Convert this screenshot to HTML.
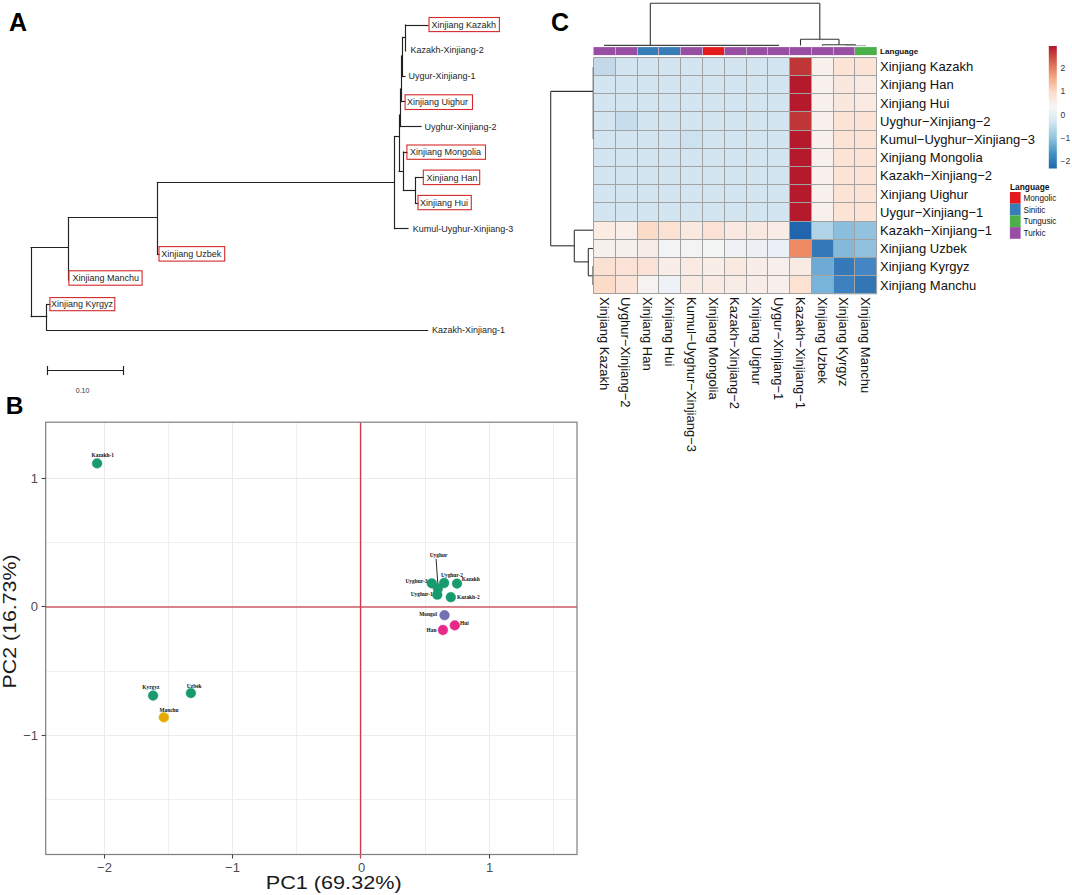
<!DOCTYPE html>
<html><head><meta charset="utf-8"><style>
html,body{margin:0;padding:0;background:#fff;}
body{width:1072px;height:895px;overflow:hidden;}
svg{display:block;}
</style></head><body>
<svg width="1072" height="895" viewBox="0 0 1072 895">
<rect x="0" y="0" width="1072" height="895" fill="#fff"/>
<line x1="405.5" y1="25.5" x2="428" y2="25.5" stroke="#222" stroke-width="1.15" stroke-linecap="square"/>
<line x1="405.5" y1="25" x2="405.5" y2="51" stroke="#222" stroke-width="1.15" stroke-linecap="square"/>
<line x1="402.5" y1="37.5" x2="405.5" y2="37.5" stroke="#222" stroke-width="1.15" stroke-linecap="square"/>
<line x1="402.5" y1="37.5" x2="402.5" y2="76.5" stroke="#222" stroke-width="1.15" stroke-linecap="square"/>
<line x1="402" y1="76.5" x2="405" y2="76.5" stroke="#222" stroke-width="1.15" stroke-linecap="square"/>
<line x1="401.5" y1="56" x2="401.5" y2="101.5" stroke="#222" stroke-width="1.15" stroke-linecap="square"/>
<line x1="400.5" y1="101.5" x2="405" y2="101.5" stroke="#222" stroke-width="1.15" stroke-linecap="square"/>
<line x1="400.5" y1="89" x2="400.5" y2="126.5" stroke="#222" stroke-width="1.15" stroke-linecap="square"/>
<line x1="399.5" y1="126.5" x2="421" y2="126.5" stroke="#222" stroke-width="1.15" stroke-linecap="square"/>
<line x1="399.5" y1="115" x2="399.5" y2="171.2" stroke="#222" stroke-width="1.15" stroke-linecap="square"/>
<line x1="394.5" y1="136.5" x2="399.1" y2="136.5" stroke="#222" stroke-width="1.15" stroke-linecap="square"/>
<line x1="399.1" y1="171.5" x2="403.4" y2="171.5" stroke="#222" stroke-width="1.15" stroke-linecap="square"/>
<line x1="403.5" y1="152" x2="403.5" y2="190" stroke="#222" stroke-width="1.15" stroke-linecap="square"/>
<line x1="403.4" y1="152.5" x2="407" y2="152.5" stroke="#222" stroke-width="1.15" stroke-linecap="square"/>
<line x1="403.4" y1="190.5" x2="415.5" y2="190.5" stroke="#222" stroke-width="1.15" stroke-linecap="square"/>
<line x1="415.5" y1="177.5" x2="415.5" y2="203.3" stroke="#222" stroke-width="1.15" stroke-linecap="square"/>
<line x1="415.5" y1="177.5" x2="423.3" y2="177.5" stroke="#222" stroke-width="1.15" stroke-linecap="square"/>
<line x1="415.5" y1="203.5" x2="418" y2="203.5" stroke="#222" stroke-width="1.15" stroke-linecap="square"/>
<line x1="394.5" y1="136.6" x2="394.5" y2="228.7" stroke="#222" stroke-width="1.15" stroke-linecap="square"/>
<line x1="394.5" y1="228.5" x2="408" y2="228.5" stroke="#222" stroke-width="1.15" stroke-linecap="square"/>
<line x1="157.4" y1="182.5" x2="394.5" y2="182.5" stroke="#222" stroke-width="1.15" stroke-linecap="square"/>
<line x1="157.5" y1="182.5" x2="157.5" y2="254" stroke="#222" stroke-width="1.15" stroke-linecap="square"/>
<line x1="157.4" y1="254.5" x2="159" y2="254.5" stroke="#222" stroke-width="1.15" stroke-linecap="square"/>
<line x1="68.4" y1="217.5" x2="157.4" y2="217.5" stroke="#222" stroke-width="1.15" stroke-linecap="square"/>
<line x1="68.5" y1="217.5" x2="68.5" y2="280" stroke="#222" stroke-width="1.15" stroke-linecap="square"/>
<line x1="31.1" y1="247.5" x2="68.4" y2="247.5" stroke="#222" stroke-width="1.15" stroke-linecap="square"/>
<line x1="31.5" y1="247.7" x2="31.5" y2="316.6" stroke="#222" stroke-width="1.15" stroke-linecap="square"/>
<line x1="31.1" y1="316.5" x2="46.7" y2="316.5" stroke="#222" stroke-width="1.15" stroke-linecap="square"/>
<line x1="46.5" y1="304.5" x2="46.5" y2="330" stroke="#222" stroke-width="1.15" stroke-linecap="square"/>
<line x1="46.7" y1="304.5" x2="49.9" y2="304.5" stroke="#222" stroke-width="1.15" stroke-linecap="square"/>
<line x1="46.7" y1="330.5" x2="427.7" y2="330.5" stroke="#222" stroke-width="1.15" stroke-linecap="square"/>
<line x1="47.5" y1="370.5" x2="123.1" y2="370.5" stroke="#222" stroke-width="1.15" stroke-linecap="square"/>
<line x1="47.5" y1="366.5" x2="47.5" y2="374.5" stroke="#222" stroke-width="1.15" stroke-linecap="square"/>
<line x1="123.5" y1="366.5" x2="123.5" y2="374.5" stroke="#222" stroke-width="1.15" stroke-linecap="square"/>
<rect x="429" y="17.5" width="70.39999999999998" height="14.100000000000001" fill="none" stroke="#d42a2a" stroke-width="1.1" />
<rect x="405.1" y="94.8" width="67.39999999999998" height="14.700000000000003" fill="none" stroke="#d42a2a" stroke-width="1.1" />
<rect x="406.9" y="145" width="78.60000000000002" height="14.300000000000011" fill="none" stroke="#d42a2a" stroke-width="1.1" />
<rect x="423.3" y="170.1" width="56.39999999999998" height="14.5" fill="none" stroke="#d42a2a" stroke-width="1.1" />
<rect x="418" y="195.4" width="53.30000000000001" height="14.299999999999983" fill="none" stroke="#d42a2a" stroke-width="1.1" />
<rect x="159" y="246.6" width="65.69999999999999" height="14.500000000000028" fill="none" stroke="#d42a2a" stroke-width="1.1" />
<rect x="68.9" y="270.8" width="73.19999999999999" height="14.399999999999977" fill="none" stroke="#d42a2a" stroke-width="1.1" />
<rect x="49.9" y="297.6" width="64.9" height="13.099999999999966" fill="none" stroke="#d42a2a" stroke-width="1.1" />
<text x="431.5" y="27.8" font-family='"Liberation Sans", sans-serif' font-size="9" font-weight="normal" fill="#1e1e1e" text-anchor="start" >Xinjiang Kazakh</text>
<text x="410.6" y="53.1" font-family='"Liberation Sans", sans-serif' font-size="9" font-weight="normal" fill="#1e1e1e" text-anchor="start" >Kazakh-Xinjiang-2</text>
<text x="408.6" y="78.8" font-family='"Liberation Sans", sans-serif' font-size="9" font-weight="normal" fill="#1e1e1e" text-anchor="start" >Uygur-Xinjiang-1</text>
<text x="407" y="104.9" font-family='"Liberation Sans", sans-serif' font-size="9" font-weight="normal" fill="#1e1e1e" text-anchor="start" >Xinjiang Uighur</text>
<text x="424.5" y="129.7" font-family='"Liberation Sans", sans-serif' font-size="9" font-weight="normal" fill="#1e1e1e" text-anchor="start" >Uyghur-Xinjiang-2</text>
<text x="409.9" y="155.2" font-family='"Liberation Sans", sans-serif' font-size="9" font-weight="normal" fill="#1e1e1e" text-anchor="start" >Xinjiang Mongolia</text>
<text x="426.6" y="180.7" font-family='"Liberation Sans", sans-serif' font-size="9" font-weight="normal" fill="#1e1e1e" text-anchor="start" >Xinjiang Han</text>
<text x="420" y="206.2" font-family='"Liberation Sans", sans-serif' font-size="9" font-weight="normal" fill="#1e1e1e" text-anchor="start" >Xinjiang Hui</text>
<text x="412.8" y="231.89999999999998" font-family='"Liberation Sans", sans-serif' font-size="9" font-weight="normal" fill="#1e1e1e" text-anchor="start" >Kumul-Uyghur-Xinjiang-3</text>
<text x="161.2" y="257.2" font-family='"Liberation Sans", sans-serif' font-size="9" font-weight="normal" fill="#1e1e1e" text-anchor="start" >Xinjiang Uzbek</text>
<text x="72.4" y="281.2" font-family='"Liberation Sans", sans-serif' font-size="9" font-weight="normal" fill="#1e1e1e" text-anchor="start" >Xinjiang Manchu</text>
<text x="51" y="307.4" font-family='"Liberation Sans", sans-serif' font-size="9" font-weight="normal" fill="#1e1e1e" text-anchor="start" >Xinjiang Kyrgyz</text>
<text x="432" y="333.2" font-family='"Liberation Sans", sans-serif' font-size="9" font-weight="normal" fill="#1e1e1e" text-anchor="start" >Kazakh-Xinjiang-1</text>
<text x="82.6" y="393.4" font-family='"Liberation Sans", sans-serif' font-size="7" font-weight="normal" fill="#333" text-anchor="middle" >0.10</text>
<text x="9" y="31.2" font-family='"Liberation Sans", sans-serif' font-size="25" font-weight="bold" fill="#000" text-anchor="start" >A</text>
<text x="5.8" y="413.8" font-family='"Liberation Sans", sans-serif' font-size="24.5" font-weight="bold" fill="#000" text-anchor="start" >B</text>
<text x="551" y="31.4" font-family='"Liberation Sans", sans-serif' font-size="25" font-weight="bold" fill="#000" text-anchor="start" >C</text>
<rect x="45.7" y="422.2" width="531.3" height="432.3" fill="#fff" stroke="none" stroke-width="1" />
<line x1="104.5" y1="422.2" x2="104.5" y2="854.5" stroke="#ebebeb" stroke-width="1" />
<line x1="168.5" y1="422.2" x2="168.5" y2="854.5" stroke="#efefef" stroke-width="1" />
<line x1="232.5" y1="422.2" x2="232.5" y2="854.5" stroke="#ebebeb" stroke-width="1" />
<line x1="296.5" y1="422.2" x2="296.5" y2="854.5" stroke="#efefef" stroke-width="1" />
<line x1="361.5" y1="422.2" x2="361.5" y2="854.5" stroke="#ebebeb" stroke-width="1" />
<line x1="425.5" y1="422.2" x2="425.5" y2="854.5" stroke="#efefef" stroke-width="1" />
<line x1="489.5" y1="422.2" x2="489.5" y2="854.5" stroke="#ebebeb" stroke-width="1" />
<line x1="553.5" y1="422.2" x2="553.5" y2="854.5" stroke="#efefef" stroke-width="1" />
<line x1="45.7" y1="478.5" x2="577" y2="478.5" stroke="#ebebeb" stroke-width="1" />
<line x1="45.7" y1="542.5" x2="577" y2="542.5" stroke="#efefef" stroke-width="1" />
<line x1="45.7" y1="606.5" x2="577" y2="606.5" stroke="#ebebeb" stroke-width="1" />
<line x1="45.7" y1="671.5" x2="577" y2="671.5" stroke="#efefef" stroke-width="1" />
<line x1="45.7" y1="735.5" x2="577" y2="735.5" stroke="#ebebeb" stroke-width="1" />
<line x1="45.7" y1="799.5" x2="577" y2="799.5" stroke="#efefef" stroke-width="1" />
<line x1="45.7" y1="607" x2="577" y2="607" stroke="#d25a66" stroke-width="1.6" />
<line x1="360.5" y1="422.2" x2="360.5" y2="858.5" stroke="#d03a48" stroke-width="1.3" />
<rect x="45.7" y="422.2" width="531.3" height="432.3" fill="none" stroke="#7f7f7f" stroke-width="1.2" />
<line x1="104.5" y1="854.5" x2="104.5" y2="858.5" stroke="#444" stroke-width="1.1" />
<text x="104.5" y="871.9" font-family='"Liberation Sans", sans-serif' font-size="13" font-weight="normal" fill="#4d4d4d" text-anchor="middle" >−2</text>
<line x1="232.5" y1="854.5" x2="232.5" y2="858.5" stroke="#444" stroke-width="1.1" />
<text x="232.5" y="871.9" font-family='"Liberation Sans", sans-serif' font-size="13" font-weight="normal" fill="#4d4d4d" text-anchor="middle" >−1</text>
<text x="361.5" y="871.9" font-family='"Liberation Sans", sans-serif' font-size="13" font-weight="normal" fill="#4d4d4d" text-anchor="middle" >0</text>
<line x1="489.5" y1="854.5" x2="489.5" y2="858.5" stroke="#444" stroke-width="1.1" />
<text x="489.5" y="871.9" font-family='"Liberation Sans", sans-serif' font-size="13" font-weight="normal" fill="#4d4d4d" text-anchor="middle" >1</text>
<line x1="41.6" y1="478.5" x2="45.7" y2="478.5" stroke="#444" stroke-width="1.1" />
<text x="38" y="483.2" font-family='"Liberation Sans", sans-serif' font-size="13" font-weight="normal" fill="#4d4d4d" text-anchor="end" >1</text>
<line x1="41.6" y1="606.5" x2="45.7" y2="606.5" stroke="#444" stroke-width="1.1" />
<text x="38" y="611.2" font-family='"Liberation Sans", sans-serif' font-size="13" font-weight="normal" fill="#4d4d4d" text-anchor="end" >0</text>
<line x1="41.6" y1="735.5" x2="45.7" y2="735.5" stroke="#444" stroke-width="1.1" />
<text x="38" y="740.2" font-family='"Liberation Sans", sans-serif' font-size="13" font-weight="normal" fill="#4d4d4d" text-anchor="end" >−1</text>
<text x="333.7" y="888.9" font-family='"Liberation Sans", sans-serif' font-size="18.5" font-weight="normal" fill="#1a1a1a" text-anchor="middle" textLength="136" lengthAdjust="spacingAndGlyphs">PC1 (69.32%)</text>
<text x="0" y="0" font-family='"Liberation Sans", sans-serif' font-size="19" fill="#1a1a1a" text-anchor="middle" textLength="134" lengthAdjust="spacingAndGlyphs" transform="translate(15.5,621.5) rotate(-90)">PC2 (16.73%)</text>
<line x1="436.1" y1="559" x2="437.9" y2="584.9" stroke="#111" stroke-width="0.9" />
<circle cx="97.1" cy="463.4" r="4.9" fill="#179a6e" stroke="#179a6e" stroke-width="0.4"/>
<circle cx="153.1" cy="695.6" r="4.9" fill="#179a6e" stroke="#179a6e" stroke-width="0.4"/>
<circle cx="190.9" cy="693.1" r="4.9" fill="#179a6e" stroke="#179a6e" stroke-width="0.4"/>
<circle cx="163.8" cy="717.4" r="4.9" fill="#e6ab02" stroke="#e6ab02" stroke-width="0.4"/>
<circle cx="431.8" cy="583.3" r="4.9" fill="#179a6e" stroke="#179a6e" stroke-width="0.4"/>
<circle cx="437.9" cy="588.5" r="4.9" fill="#179a6e" stroke="#179a6e" stroke-width="0.4"/>
<circle cx="444.1" cy="583" r="4.9" fill="#179a6e" stroke="#179a6e" stroke-width="0.4"/>
<circle cx="457" cy="583.6" r="4.9" fill="#179a6e" stroke="#179a6e" stroke-width="0.4"/>
<circle cx="437.3" cy="594.7" r="4.9" fill="#179a6e" stroke="#179a6e" stroke-width="0.4"/>
<circle cx="450.8" cy="597.2" r="4.9" fill="#179a6e" stroke="#179a6e" stroke-width="0.4"/>
<circle cx="444.5" cy="615.2" r="4.9" fill="#7570b3" stroke="#7570b3" stroke-width="0.4"/>
<circle cx="454.8" cy="625.4" r="4.9" fill="#e7298a" stroke="#e7298a" stroke-width="0.4"/>
<circle cx="442.9" cy="630" r="4.9" fill="#e7298a" stroke="#e7298a" stroke-width="0.4"/>
<text x="102.75" y="457" font-family='"Liberation Serif", serif' font-size="5.4" font-weight="bold" fill="#111" text-anchor="middle" >Kazakh-1</text>
<text x="150.8" y="688.8" font-family='"Liberation Serif", serif' font-size="5.4" font-weight="bold" fill="#111" text-anchor="middle" >Kyrgyz</text>
<text x="194.2" y="687.8" font-family='"Liberation Serif", serif' font-size="5.4" font-weight="bold" fill="#111" text-anchor="middle" >Uzbek</text>
<text x="169" y="711.9" font-family='"Liberation Serif", serif' font-size="5.4" font-weight="bold" fill="#111" text-anchor="middle" >Manchu</text>
<text x="438.5" y="556.7" font-family='"Liberation Serif", serif' font-size="5.4" font-weight="bold" fill="#111" text-anchor="middle" >Uyghur</text>
<text x="416.45" y="582.6" font-family='"Liberation Serif", serif' font-size="5.4" font-weight="bold" fill="#111" text-anchor="middle" >Uyghur-3</text>
<text x="452.05" y="577" font-family='"Liberation Serif", serif' font-size="5.4" font-weight="bold" fill="#111" text-anchor="middle" >Uyghur-2</text>
<text x="470.8" y="581.1" font-family='"Liberation Serif", serif' font-size="5.4" font-weight="bold" fill="#111" text-anchor="middle" >Kazakh</text>
<text x="421.65" y="596" font-family='"Liberation Serif", serif' font-size="5.4" font-weight="bold" fill="#111" text-anchor="middle" >Uyghur-1</text>
<text x="468.35" y="599.4" font-family='"Liberation Serif", serif' font-size="5.4" font-weight="bold" fill="#111" text-anchor="middle" >Kazakh-2</text>
<text x="428.1" y="616.4" font-family='"Liberation Serif", serif' font-size="5.4" font-weight="bold" fill="#111" text-anchor="middle" >Mongol</text>
<text x="464.35" y="625.2" font-family='"Liberation Serif", serif' font-size="5.4" font-weight="bold" fill="#111" text-anchor="middle" >Hui</text>
<text x="431.5" y="632" font-family='"Liberation Serif", serif' font-size="5.4" font-weight="bold" fill="#111" text-anchor="middle" >Han</text>
<rect x="593.5" y="57.3" width="22.09" height="18.5" fill="#c3d9ea" stroke="none" stroke-width="1" />
<rect x="615.29" y="57.3" width="22.09" height="18.5" fill="#d3e5f0" stroke="none" stroke-width="1" />
<rect x="637.08" y="57.3" width="22.09" height="18.5" fill="#d3e5f0" stroke="none" stroke-width="1" />
<rect x="658.87" y="57.3" width="22.09" height="18.5" fill="#d3e5f0" stroke="none" stroke-width="1" />
<rect x="680.66" y="57.3" width="22.09" height="18.5" fill="#d3e5f0" stroke="none" stroke-width="1" />
<rect x="702.45" y="57.3" width="22.09" height="18.5" fill="#d3e5f0" stroke="none" stroke-width="1" />
<rect x="724.24" y="57.3" width="22.09" height="18.5" fill="#d3e5f0" stroke="none" stroke-width="1" />
<rect x="746.03" y="57.3" width="22.09" height="18.5" fill="#d3e5f0" stroke="none" stroke-width="1" />
<rect x="767.82" y="57.3" width="22.09" height="18.5" fill="#d3e5f0" stroke="none" stroke-width="1" />
<rect x="789.61" y="57.3" width="22.09" height="18.5" fill="#c03535" stroke="none" stroke-width="1" />
<rect x="811.4" y="57.3" width="22.09" height="18.5" fill="#f7f0ec" stroke="none" stroke-width="1" />
<rect x="833.19" y="57.3" width="22.09" height="18.5" fill="#fbe3d6" stroke="none" stroke-width="1" />
<rect x="854.98" y="57.3" width="22.09" height="18.5" fill="#fbe4d6" stroke="none" stroke-width="1" />
<rect x="593.5" y="75.5" width="22.09" height="18.5" fill="#d3e5f0" stroke="none" stroke-width="1" />
<rect x="615.29" y="75.5" width="22.09" height="18.5" fill="#d3e5f0" stroke="none" stroke-width="1" />
<rect x="637.08" y="75.5" width="22.09" height="18.5" fill="#d3e5f0" stroke="none" stroke-width="1" />
<rect x="658.87" y="75.5" width="22.09" height="18.5" fill="#d3e5f0" stroke="none" stroke-width="1" />
<rect x="680.66" y="75.5" width="22.09" height="18.5" fill="#d3e5f0" stroke="none" stroke-width="1" />
<rect x="702.45" y="75.5" width="22.09" height="18.5" fill="#d3e5f0" stroke="none" stroke-width="1" />
<rect x="724.24" y="75.5" width="22.09" height="18.5" fill="#d3e5f0" stroke="none" stroke-width="1" />
<rect x="746.03" y="75.5" width="22.09" height="18.5" fill="#d3e5f0" stroke="none" stroke-width="1" />
<rect x="767.82" y="75.5" width="22.09" height="18.5" fill="#d3e5f0" stroke="none" stroke-width="1" />
<rect x="789.61" y="75.5" width="22.09" height="18.5" fill="#b5192c" stroke="none" stroke-width="1" />
<rect x="811.4" y="75.5" width="22.09" height="18.5" fill="#f7f0ec" stroke="none" stroke-width="1" />
<rect x="833.19" y="75.5" width="22.09" height="18.5" fill="#fae8de" stroke="none" stroke-width="1" />
<rect x="854.98" y="75.5" width="22.09" height="18.5" fill="#f9ebe3" stroke="none" stroke-width="1" />
<rect x="593.5" y="93.7" width="22.09" height="18.5" fill="#d3e5f0" stroke="none" stroke-width="1" />
<rect x="615.29" y="93.7" width="22.09" height="18.5" fill="#d3e5f0" stroke="none" stroke-width="1" />
<rect x="637.08" y="93.7" width="22.09" height="18.5" fill="#d3e5f0" stroke="none" stroke-width="1" />
<rect x="658.87" y="93.7" width="22.09" height="18.5" fill="#d3e5f0" stroke="none" stroke-width="1" />
<rect x="680.66" y="93.7" width="22.09" height="18.5" fill="#d3e5f0" stroke="none" stroke-width="1" />
<rect x="702.45" y="93.7" width="22.09" height="18.5" fill="#d3e5f0" stroke="none" stroke-width="1" />
<rect x="724.24" y="93.7" width="22.09" height="18.5" fill="#d3e5f0" stroke="none" stroke-width="1" />
<rect x="746.03" y="93.7" width="22.09" height="18.5" fill="#d3e5f0" stroke="none" stroke-width="1" />
<rect x="767.82" y="93.7" width="22.09" height="18.5" fill="#d3e5f0" stroke="none" stroke-width="1" />
<rect x="789.61" y="93.7" width="22.09" height="18.5" fill="#b5192c" stroke="none" stroke-width="1" />
<rect x="811.4" y="93.7" width="22.09" height="18.5" fill="#f7f0ec" stroke="none" stroke-width="1" />
<rect x="833.19" y="93.7" width="22.09" height="18.5" fill="#fae8de" stroke="none" stroke-width="1" />
<rect x="854.98" y="93.7" width="22.09" height="18.5" fill="#f9ebe3" stroke="none" stroke-width="1" />
<rect x="593.5" y="111.9" width="22.09" height="18.5" fill="#d3e5f0" stroke="none" stroke-width="1" />
<rect x="615.29" y="111.9" width="22.09" height="18.5" fill="#c7ddec" stroke="none" stroke-width="1" />
<rect x="637.08" y="111.9" width="22.09" height="18.5" fill="#d3e5f0" stroke="none" stroke-width="1" />
<rect x="658.87" y="111.9" width="22.09" height="18.5" fill="#d3e5f0" stroke="none" stroke-width="1" />
<rect x="680.66" y="111.9" width="22.09" height="18.5" fill="#d3e5f0" stroke="none" stroke-width="1" />
<rect x="702.45" y="111.9" width="22.09" height="18.5" fill="#d3e5f0" stroke="none" stroke-width="1" />
<rect x="724.24" y="111.9" width="22.09" height="18.5" fill="#d3e5f0" stroke="none" stroke-width="1" />
<rect x="746.03" y="111.9" width="22.09" height="18.5" fill="#d3e5f0" stroke="none" stroke-width="1" />
<rect x="767.82" y="111.9" width="22.09" height="18.5" fill="#d3e5f0" stroke="none" stroke-width="1" />
<rect x="789.61" y="111.9" width="22.09" height="18.5" fill="#c03535" stroke="none" stroke-width="1" />
<rect x="811.4" y="111.9" width="22.09" height="18.5" fill="#f7f0ec" stroke="none" stroke-width="1" />
<rect x="833.19" y="111.9" width="22.09" height="18.5" fill="#fbe3d6" stroke="none" stroke-width="1" />
<rect x="854.98" y="111.9" width="22.09" height="18.5" fill="#fbe4d6" stroke="none" stroke-width="1" />
<rect x="593.5" y="130.1" width="22.09" height="18.5" fill="#d3e5f0" stroke="none" stroke-width="1" />
<rect x="615.29" y="130.1" width="22.09" height="18.5" fill="#d3e5f0" stroke="none" stroke-width="1" />
<rect x="637.08" y="130.1" width="22.09" height="18.5" fill="#d3e5f0" stroke="none" stroke-width="1" />
<rect x="658.87" y="130.1" width="22.09" height="18.5" fill="#d3e5f0" stroke="none" stroke-width="1" />
<rect x="680.66" y="130.1" width="22.09" height="18.5" fill="#cde2ef" stroke="none" stroke-width="1" />
<rect x="702.45" y="130.1" width="22.09" height="18.5" fill="#d3e5f0" stroke="none" stroke-width="1" />
<rect x="724.24" y="130.1" width="22.09" height="18.5" fill="#d3e5f0" stroke="none" stroke-width="1" />
<rect x="746.03" y="130.1" width="22.09" height="18.5" fill="#d3e5f0" stroke="none" stroke-width="1" />
<rect x="767.82" y="130.1" width="22.09" height="18.5" fill="#d3e5f0" stroke="none" stroke-width="1" />
<rect x="789.61" y="130.1" width="22.09" height="18.5" fill="#b5192c" stroke="none" stroke-width="1" />
<rect x="811.4" y="130.1" width="22.09" height="18.5" fill="#f7f0ec" stroke="none" stroke-width="1" />
<rect x="833.19" y="130.1" width="22.09" height="18.5" fill="#fbe3d6" stroke="none" stroke-width="1" />
<rect x="854.98" y="130.1" width="22.09" height="18.5" fill="#fbe4d6" stroke="none" stroke-width="1" />
<rect x="593.5" y="148.3" width="22.09" height="18.5" fill="#d3e5f0" stroke="none" stroke-width="1" />
<rect x="615.29" y="148.3" width="22.09" height="18.5" fill="#d3e5f0" stroke="none" stroke-width="1" />
<rect x="637.08" y="148.3" width="22.09" height="18.5" fill="#d3e5f0" stroke="none" stroke-width="1" />
<rect x="658.87" y="148.3" width="22.09" height="18.5" fill="#d3e5f0" stroke="none" stroke-width="1" />
<rect x="680.66" y="148.3" width="22.09" height="18.5" fill="#d3e5f0" stroke="none" stroke-width="1" />
<rect x="702.45" y="148.3" width="22.09" height="18.5" fill="#d3e5f0" stroke="none" stroke-width="1" />
<rect x="724.24" y="148.3" width="22.09" height="18.5" fill="#d3e5f0" stroke="none" stroke-width="1" />
<rect x="746.03" y="148.3" width="22.09" height="18.5" fill="#d3e5f0" stroke="none" stroke-width="1" />
<rect x="767.82" y="148.3" width="22.09" height="18.5" fill="#d3e5f0" stroke="none" stroke-width="1" />
<rect x="789.61" y="148.3" width="22.09" height="18.5" fill="#b5192c" stroke="none" stroke-width="1" />
<rect x="811.4" y="148.3" width="22.09" height="18.5" fill="#f7f0ec" stroke="none" stroke-width="1" />
<rect x="833.19" y="148.3" width="22.09" height="18.5" fill="#fbe3d6" stroke="none" stroke-width="1" />
<rect x="854.98" y="148.3" width="22.09" height="18.5" fill="#fbe4d6" stroke="none" stroke-width="1" />
<rect x="593.5" y="166.5" width="22.09" height="18.5" fill="#d3e5f0" stroke="none" stroke-width="1" />
<rect x="615.29" y="166.5" width="22.09" height="18.5" fill="#d3e5f0" stroke="none" stroke-width="1" />
<rect x="637.08" y="166.5" width="22.09" height="18.5" fill="#d3e5f0" stroke="none" stroke-width="1" />
<rect x="658.87" y="166.5" width="22.09" height="18.5" fill="#d3e5f0" stroke="none" stroke-width="1" />
<rect x="680.66" y="166.5" width="22.09" height="18.5" fill="#d3e5f0" stroke="none" stroke-width="1" />
<rect x="702.45" y="166.5" width="22.09" height="18.5" fill="#d3e5f0" stroke="none" stroke-width="1" />
<rect x="724.24" y="166.5" width="22.09" height="18.5" fill="#d3e5f0" stroke="none" stroke-width="1" />
<rect x="746.03" y="166.5" width="22.09" height="18.5" fill="#d3e5f0" stroke="none" stroke-width="1" />
<rect x="767.82" y="166.5" width="22.09" height="18.5" fill="#d3e5f0" stroke="none" stroke-width="1" />
<rect x="789.61" y="166.5" width="22.09" height="18.5" fill="#b5192c" stroke="none" stroke-width="1" />
<rect x="811.4" y="166.5" width="22.09" height="18.5" fill="#f7f0ec" stroke="none" stroke-width="1" />
<rect x="833.19" y="166.5" width="22.09" height="18.5" fill="#fbe3d6" stroke="none" stroke-width="1" />
<rect x="854.98" y="166.5" width="22.09" height="18.5" fill="#fbe4d6" stroke="none" stroke-width="1" />
<rect x="593.5" y="184.7" width="22.09" height="18.5" fill="#d3e5f0" stroke="none" stroke-width="1" />
<rect x="615.29" y="184.7" width="22.09" height="18.5" fill="#d3e5f0" stroke="none" stroke-width="1" />
<rect x="637.08" y="184.7" width="22.09" height="18.5" fill="#d3e5f0" stroke="none" stroke-width="1" />
<rect x="658.87" y="184.7" width="22.09" height="18.5" fill="#d3e5f0" stroke="none" stroke-width="1" />
<rect x="680.66" y="184.7" width="22.09" height="18.5" fill="#d3e5f0" stroke="none" stroke-width="1" />
<rect x="702.45" y="184.7" width="22.09" height="18.5" fill="#d3e5f0" stroke="none" stroke-width="1" />
<rect x="724.24" y="184.7" width="22.09" height="18.5" fill="#d3e5f0" stroke="none" stroke-width="1" />
<rect x="746.03" y="184.7" width="22.09" height="18.5" fill="#d3e5f0" stroke="none" stroke-width="1" />
<rect x="767.82" y="184.7" width="22.09" height="18.5" fill="#d3e5f0" stroke="none" stroke-width="1" />
<rect x="789.61" y="184.7" width="22.09" height="18.5" fill="#b5192c" stroke="none" stroke-width="1" />
<rect x="811.4" y="184.7" width="22.09" height="18.5" fill="#f7f0ec" stroke="none" stroke-width="1" />
<rect x="833.19" y="184.7" width="22.09" height="18.5" fill="#fbe3d6" stroke="none" stroke-width="1" />
<rect x="854.98" y="184.7" width="22.09" height="18.5" fill="#fbe4d6" stroke="none" stroke-width="1" />
<rect x="593.5" y="202.9" width="22.09" height="18.5" fill="#d3e5f0" stroke="none" stroke-width="1" />
<rect x="615.29" y="202.9" width="22.09" height="18.5" fill="#d3e5f0" stroke="none" stroke-width="1" />
<rect x="637.08" y="202.9" width="22.09" height="18.5" fill="#d3e5f0" stroke="none" stroke-width="1" />
<rect x="658.87" y="202.9" width="22.09" height="18.5" fill="#d3e5f0" stroke="none" stroke-width="1" />
<rect x="680.66" y="202.9" width="22.09" height="18.5" fill="#d3e5f0" stroke="none" stroke-width="1" />
<rect x="702.45" y="202.9" width="22.09" height="18.5" fill="#d3e5f0" stroke="none" stroke-width="1" />
<rect x="724.24" y="202.9" width="22.09" height="18.5" fill="#d3e5f0" stroke="none" stroke-width="1" />
<rect x="746.03" y="202.9" width="22.09" height="18.5" fill="#d3e5f0" stroke="none" stroke-width="1" />
<rect x="767.82" y="202.9" width="22.09" height="18.5" fill="#d3e5f0" stroke="none" stroke-width="1" />
<rect x="789.61" y="202.9" width="22.09" height="18.5" fill="#b5192c" stroke="none" stroke-width="1" />
<rect x="811.4" y="202.9" width="22.09" height="18.5" fill="#f7f0ec" stroke="none" stroke-width="1" />
<rect x="833.19" y="202.9" width="22.09" height="18.5" fill="#fbe3d6" stroke="none" stroke-width="1" />
<rect x="854.98" y="202.9" width="22.09" height="18.5" fill="#fbe4d6" stroke="none" stroke-width="1" />
<rect x="593.5" y="221.1" width="22.09" height="18.5" fill="#fbece4" stroke="none" stroke-width="1" />
<rect x="615.29" y="221.1" width="22.09" height="18.5" fill="#f9eee9" stroke="none" stroke-width="1" />
<rect x="637.08" y="221.1" width="22.09" height="18.5" fill="#fcdcc8" stroke="none" stroke-width="1" />
<rect x="658.87" y="221.1" width="22.09" height="18.5" fill="#fbe2d3" stroke="none" stroke-width="1" />
<rect x="680.66" y="221.1" width="22.09" height="18.5" fill="#f9e9e0" stroke="none" stroke-width="1" />
<rect x="702.45" y="221.1" width="22.09" height="18.5" fill="#fae3d6" stroke="none" stroke-width="1" />
<rect x="724.24" y="221.1" width="22.09" height="18.5" fill="#f9e9e2" stroke="none" stroke-width="1" />
<rect x="746.03" y="221.1" width="22.09" height="18.5" fill="#f9e9e2" stroke="none" stroke-width="1" />
<rect x="767.82" y="221.1" width="22.09" height="18.5" fill="#f9ece6" stroke="none" stroke-width="1" />
<rect x="789.61" y="221.1" width="22.09" height="18.5" fill="#2166ac" stroke="none" stroke-width="1" />
<rect x="811.4" y="221.1" width="22.09" height="18.5" fill="#b0d3e7" stroke="none" stroke-width="1" />
<rect x="833.19" y="221.1" width="22.09" height="18.5" fill="#8bbedc" stroke="none" stroke-width="1" />
<rect x="854.98" y="221.1" width="22.09" height="18.5" fill="#92c2df" stroke="none" stroke-width="1" />
<rect x="593.5" y="239.3" width="22.09" height="18.5" fill="#f6efec" stroke="none" stroke-width="1" />
<rect x="615.29" y="239.3" width="22.09" height="18.5" fill="#f5f0ee" stroke="none" stroke-width="1" />
<rect x="637.08" y="239.3" width="22.09" height="18.5" fill="#f8ece6" stroke="none" stroke-width="1" />
<rect x="658.87" y="239.3" width="22.09" height="18.5" fill="#f2f3f5" stroke="none" stroke-width="1" />
<rect x="680.66" y="239.3" width="22.09" height="18.5" fill="#f3f3f3" stroke="none" stroke-width="1" />
<rect x="702.45" y="239.3" width="22.09" height="18.5" fill="#f3f4f4" stroke="none" stroke-width="1" />
<rect x="724.24" y="239.3" width="22.09" height="18.5" fill="#eff2f5" stroke="none" stroke-width="1" />
<rect x="746.03" y="239.3" width="22.09" height="18.5" fill="#edf1f5" stroke="none" stroke-width="1" />
<rect x="767.82" y="239.3" width="22.09" height="18.5" fill="#eaf0f5" stroke="none" stroke-width="1" />
<rect x="789.61" y="239.3" width="22.09" height="18.5" fill="#ee8b63" stroke="none" stroke-width="1" />
<rect x="811.4" y="239.3" width="22.09" height="18.5" fill="#3478b8" stroke="none" stroke-width="1" />
<rect x="833.19" y="239.3" width="22.09" height="18.5" fill="#84b9da" stroke="none" stroke-width="1" />
<rect x="854.98" y="239.3" width="22.09" height="18.5" fill="#8fc0de" stroke="none" stroke-width="1" />
<rect x="593.5" y="257.5" width="22.09" height="18.5" fill="#fbe1d2" stroke="none" stroke-width="1" />
<rect x="615.29" y="257.5" width="22.09" height="18.5" fill="#fae3d6" stroke="none" stroke-width="1" />
<rect x="637.08" y="257.5" width="22.09" height="18.5" fill="#fae3d6" stroke="none" stroke-width="1" />
<rect x="658.87" y="257.5" width="22.09" height="18.5" fill="#f8ede7" stroke="none" stroke-width="1" />
<rect x="680.66" y="257.5" width="22.09" height="18.5" fill="#f9ebe4" stroke="none" stroke-width="1" />
<rect x="702.45" y="257.5" width="22.09" height="18.5" fill="#f8ede7" stroke="none" stroke-width="1" />
<rect x="724.24" y="257.5" width="22.09" height="18.5" fill="#f9e9e0" stroke="none" stroke-width="1" />
<rect x="746.03" y="257.5" width="22.09" height="18.5" fill="#f8ede7" stroke="none" stroke-width="1" />
<rect x="767.82" y="257.5" width="22.09" height="18.5" fill="#f7efeb" stroke="none" stroke-width="1" />
<rect x="789.61" y="257.5" width="22.09" height="18.5" fill="#f9ebe4" stroke="none" stroke-width="1" />
<rect x="811.4" y="257.5" width="22.09" height="18.5" fill="#6eaad3" stroke="none" stroke-width="1" />
<rect x="833.19" y="257.5" width="22.09" height="18.5" fill="#3579b8" stroke="none" stroke-width="1" />
<rect x="854.98" y="257.5" width="22.09" height="18.5" fill="#4386c3" stroke="none" stroke-width="1" />
<rect x="593.5" y="275.7" width="22.09" height="18.5" fill="#fcdcc8" stroke="none" stroke-width="1" />
<rect x="615.29" y="275.7" width="22.09" height="18.5" fill="#fbe4d7" stroke="none" stroke-width="1" />
<rect x="637.08" y="275.7" width="22.09" height="18.5" fill="#f6f2f0" stroke="none" stroke-width="1" />
<rect x="658.87" y="275.7" width="22.09" height="18.5" fill="#eef1f5" stroke="none" stroke-width="1" />
<rect x="680.66" y="275.7" width="22.09" height="18.5" fill="#f8ebe4" stroke="none" stroke-width="1" />
<rect x="702.45" y="275.7" width="22.09" height="18.5" fill="#f9ebe4" stroke="none" stroke-width="1" />
<rect x="724.24" y="275.7" width="22.09" height="18.5" fill="#f8ece7" stroke="none" stroke-width="1" />
<rect x="746.03" y="275.7" width="22.09" height="18.5" fill="#f8ede8" stroke="none" stroke-width="1" />
<rect x="767.82" y="275.7" width="22.09" height="18.5" fill="#f8efec" stroke="none" stroke-width="1" />
<rect x="789.61" y="275.7" width="22.09" height="18.5" fill="#fbe2d3" stroke="none" stroke-width="1" />
<rect x="811.4" y="275.7" width="22.09" height="18.5" fill="#78b3d9" stroke="none" stroke-width="1" />
<rect x="833.19" y="275.7" width="22.09" height="18.5" fill="#3d80bf" stroke="none" stroke-width="1" />
<rect x="854.98" y="275.7" width="22.09" height="18.5" fill="#3376b6" stroke="none" stroke-width="1" />
<line x1="593.5" y1="57.3" x2="593.5" y2="293.9" stroke="#a2a2a2" stroke-width="1" />
<line x1="615.5" y1="57.3" x2="615.5" y2="293.9" stroke="#a2a2a2" stroke-width="1" />
<line x1="637.5" y1="57.3" x2="637.5" y2="293.9" stroke="#a2a2a2" stroke-width="1" />
<line x1="658.5" y1="57.3" x2="658.5" y2="293.9" stroke="#a2a2a2" stroke-width="1" />
<line x1="680.5" y1="57.3" x2="680.5" y2="293.9" stroke="#a2a2a2" stroke-width="1" />
<line x1="702.5" y1="57.3" x2="702.5" y2="293.9" stroke="#a2a2a2" stroke-width="1" />
<line x1="724.5" y1="57.3" x2="724.5" y2="293.9" stroke="#a2a2a2" stroke-width="1" />
<line x1="746.5" y1="57.3" x2="746.5" y2="293.9" stroke="#a2a2a2" stroke-width="1" />
<line x1="767.5" y1="57.3" x2="767.5" y2="293.9" stroke="#a2a2a2" stroke-width="1" />
<line x1="789.5" y1="57.3" x2="789.5" y2="293.9" stroke="#a2a2a2" stroke-width="1" />
<line x1="811.5" y1="57.3" x2="811.5" y2="293.9" stroke="#a2a2a2" stroke-width="1" />
<line x1="833.5" y1="57.3" x2="833.5" y2="293.9" stroke="#a2a2a2" stroke-width="1" />
<line x1="854.5" y1="57.3" x2="854.5" y2="293.9" stroke="#a2a2a2" stroke-width="1" />
<line x1="876.5" y1="57.3" x2="876.5" y2="293.9" stroke="#a2a2a2" stroke-width="1" />
<line x1="593.5" y1="57.5" x2="876.77" y2="57.5" stroke="#a2a2a2" stroke-width="1" />
<line x1="593.5" y1="75.5" x2="876.77" y2="75.5" stroke="#a2a2a2" stroke-width="1" />
<line x1="593.5" y1="93.5" x2="876.77" y2="93.5" stroke="#a2a2a2" stroke-width="1" />
<line x1="593.5" y1="111.5" x2="876.77" y2="111.5" stroke="#a2a2a2" stroke-width="1" />
<line x1="593.5" y1="130.5" x2="876.77" y2="130.5" stroke="#a2a2a2" stroke-width="1" />
<line x1="593.5" y1="148.5" x2="876.77" y2="148.5" stroke="#a2a2a2" stroke-width="1" />
<line x1="593.5" y1="166.5" x2="876.77" y2="166.5" stroke="#a2a2a2" stroke-width="1" />
<line x1="593.5" y1="184.5" x2="876.77" y2="184.5" stroke="#a2a2a2" stroke-width="1" />
<line x1="593.5" y1="202.5" x2="876.77" y2="202.5" stroke="#a2a2a2" stroke-width="1" />
<line x1="593.5" y1="221.5" x2="876.77" y2="221.5" stroke="#a2a2a2" stroke-width="1" />
<line x1="593.5" y1="239.5" x2="876.77" y2="239.5" stroke="#a2a2a2" stroke-width="1" />
<line x1="593.5" y1="257.5" x2="876.77" y2="257.5" stroke="#a2a2a2" stroke-width="1" />
<line x1="593.5" y1="275.5" x2="876.77" y2="275.5" stroke="#a2a2a2" stroke-width="1" />
<line x1="593.5" y1="293.5" x2="876.77" y2="293.5" stroke="#a2a2a2" stroke-width="1" />
<rect x="593.5" y="47.1" width="21.79" height="8" fill="#984ea3" stroke="none" stroke-width="1" />
<rect x="615.29" y="47.1" width="21.79" height="8" fill="#984ea3" stroke="none" stroke-width="1" />
<rect x="637.08" y="47.1" width="21.79" height="8" fill="#377eb8" stroke="none" stroke-width="1" />
<rect x="658.87" y="47.1" width="21.79" height="8" fill="#377eb8" stroke="none" stroke-width="1" />
<rect x="680.66" y="47.1" width="21.79" height="8" fill="#984ea3" stroke="none" stroke-width="1" />
<rect x="702.45" y="47.1" width="21.79" height="8" fill="#e41a1c" stroke="none" stroke-width="1" />
<rect x="724.24" y="47.1" width="21.79" height="8" fill="#984ea3" stroke="none" stroke-width="1" />
<rect x="746.03" y="47.1" width="21.79" height="8" fill="#984ea3" stroke="none" stroke-width="1" />
<rect x="767.82" y="47.1" width="21.79" height="8" fill="#984ea3" stroke="none" stroke-width="1" />
<rect x="789.61" y="47.1" width="21.79" height="8" fill="#984ea3" stroke="none" stroke-width="1" />
<rect x="811.4" y="47.1" width="21.79" height="8" fill="#984ea3" stroke="none" stroke-width="1" />
<rect x="833.19" y="47.1" width="21.79" height="8" fill="#984ea3" stroke="none" stroke-width="1" />
<rect x="854.98" y="47.1" width="21.79" height="8" fill="#4daf4a" stroke="none" stroke-width="1" />
<line x1="615.5" y1="47.1" x2="615.5" y2="55.1" stroke="#c4a8c8" stroke-width="1" />
<line x1="637.5" y1="47.1" x2="637.5" y2="55.1" stroke="#c4a8c8" stroke-width="1" />
<line x1="658.5" y1="47.1" x2="658.5" y2="55.1" stroke="#c4a8c8" stroke-width="1" />
<line x1="680.5" y1="47.1" x2="680.5" y2="55.1" stroke="#c4a8c8" stroke-width="1" />
<line x1="702.5" y1="47.1" x2="702.5" y2="55.1" stroke="#c4a8c8" stroke-width="1" />
<line x1="724.5" y1="47.1" x2="724.5" y2="55.1" stroke="#c4a8c8" stroke-width="1" />
<line x1="746.5" y1="47.1" x2="746.5" y2="55.1" stroke="#c4a8c8" stroke-width="1" />
<line x1="767.5" y1="47.1" x2="767.5" y2="55.1" stroke="#c4a8c8" stroke-width="1" />
<line x1="789.5" y1="47.1" x2="789.5" y2="55.1" stroke="#c4a8c8" stroke-width="1" />
<line x1="811.5" y1="47.1" x2="811.5" y2="55.1" stroke="#c4a8c8" stroke-width="1" />
<line x1="833.5" y1="47.1" x2="833.5" y2="55.1" stroke="#c4a8c8" stroke-width="1" />
<line x1="854.5" y1="47.1" x2="854.5" y2="55.1" stroke="#c4a8c8" stroke-width="1" />
<line x1="650.3" y1="3.3" x2="819.8" y2="3.3" stroke="#333" stroke-width="1.1" />
<line x1="650.3" y1="3.3" x2="650.3" y2="45.4" stroke="#333" stroke-width="1.1" />
<line x1="819.8" y1="3.3" x2="819.8" y2="39.2" stroke="#333" stroke-width="1.1" />
<line x1="800.5" y1="39.2" x2="839" y2="39.2" stroke="#333" stroke-width="1.1" />
<line x1="800.5" y1="39.2" x2="800.5" y2="45.5" stroke="#333" stroke-width="1.1" />
<line x1="839" y1="39.2" x2="839" y2="44.8" stroke="#333" stroke-width="1.1" />
<line x1="822.4" y1="44.8" x2="855.7" y2="44.8" stroke="#333" stroke-width="1.1" />
<line x1="604" y1="45.4" x2="779" y2="45.4" stroke="#444" stroke-width="1.1" />
<line x1="822.4" y1="44.8" x2="822.4" y2="45.8" stroke="#333" stroke-width="1" />
<line x1="855.7" y1="44.8" x2="855.7" y2="45.8" stroke="#333" stroke-width="1" />
<line x1="845" y1="45.6" x2="866" y2="45.6" stroke="#999" stroke-width="0.8" />
<line x1="550.7" y1="91.4" x2="593" y2="91.4" stroke="#333" stroke-width="1.1" />
<line x1="550.7" y1="91.4" x2="550.7" y2="245.8" stroke="#333" stroke-width="1.1" />
<line x1="550.7" y1="245.8" x2="574.3" y2="245.8" stroke="#333" stroke-width="1.1" />
<line x1="574.3" y1="230.2" x2="574.3" y2="261.9" stroke="#333" stroke-width="1.1" />
<line x1="574.3" y1="230.2" x2="593" y2="230.2" stroke="#333" stroke-width="1.1" />
<line x1="574.3" y1="261.9" x2="588.3" y2="261.9" stroke="#333" stroke-width="1.1" />
<line x1="588.3" y1="248.5" x2="588.3" y2="275.8" stroke="#333" stroke-width="1.1" />
<line x1="588.3" y1="248.5" x2="593" y2="248.5" stroke="#333" stroke-width="1.1" />
<line x1="588.3" y1="275.8" x2="593" y2="275.8" stroke="#333" stroke-width="1.1" />
<line x1="593" y1="67" x2="593" y2="139" stroke="#666" stroke-width="0.8" />
<line x1="592.5" y1="266" x2="592.5" y2="285" stroke="#777" stroke-width="0.8" />
<text x="880" y="71.1" font-family='"Liberation Sans", sans-serif' font-size="13" font-weight="normal" fill="#111" text-anchor="start" >Xinjiang Kazakh</text>
<text x="880" y="89.3" font-family='"Liberation Sans", sans-serif' font-size="13" font-weight="normal" fill="#111" text-anchor="start" >Xinjiang Han</text>
<text x="880" y="107.5" font-family='"Liberation Sans", sans-serif' font-size="13" font-weight="normal" fill="#111" text-anchor="start" >Xinjiang Hui</text>
<text x="880" y="125.7" font-family='"Liberation Sans", sans-serif' font-size="13" font-weight="normal" fill="#111" text-anchor="start" >Uyghur−Xinjiang−2</text>
<text x="880" y="143.9" font-family='"Liberation Sans", sans-serif' font-size="13" font-weight="normal" fill="#111" text-anchor="start" >Kumul−Uyghur−Xinjiang−3</text>
<text x="880" y="162.1" font-family='"Liberation Sans", sans-serif' font-size="13" font-weight="normal" fill="#111" text-anchor="start" >Xinjiang Mongolia</text>
<text x="880" y="180.3" font-family='"Liberation Sans", sans-serif' font-size="13" font-weight="normal" fill="#111" text-anchor="start" >Kazakh−Xinjiang−2</text>
<text x="880" y="198.5" font-family='"Liberation Sans", sans-serif' font-size="13" font-weight="normal" fill="#111" text-anchor="start" >Xinjiang Uighur</text>
<text x="880" y="216.7" font-family='"Liberation Sans", sans-serif' font-size="13" font-weight="normal" fill="#111" text-anchor="start" >Uygur−Xinjiang−1</text>
<text x="880" y="234.9" font-family='"Liberation Sans", sans-serif' font-size="13" font-weight="normal" fill="#111" text-anchor="start" >Kazakh−Xinjiang−1</text>
<text x="880" y="253.1" font-family='"Liberation Sans", sans-serif' font-size="13" font-weight="normal" fill="#111" text-anchor="start" >Xinjiang Uzbek</text>
<text x="880" y="271.3" font-family='"Liberation Sans", sans-serif' font-size="13" font-weight="normal" fill="#111" text-anchor="start" >Xinjiang Kyrgyz</text>
<text x="880" y="289.5" font-family='"Liberation Sans", sans-serif' font-size="13" font-weight="normal" fill="#111" text-anchor="start" >Xinjiang Manchu</text>
<text x="0" y="0" font-family='"Liberation Sans", sans-serif' font-size="13" fill="#111" transform="translate(599.69,297) rotate(90)">Xinjiang Kazakh</text>
<text x="0" y="0" font-family='"Liberation Sans", sans-serif' font-size="13" fill="#111" transform="translate(621.48,297) rotate(90)">Uyghur−Xinjiang−2</text>
<text x="0" y="0" font-family='"Liberation Sans", sans-serif' font-size="13" fill="#111" transform="translate(643.27,297) rotate(90)">Xinjiang Han</text>
<text x="0" y="0" font-family='"Liberation Sans", sans-serif' font-size="13" fill="#111" transform="translate(665.06,297) rotate(90)">Xinjiang Hui</text>
<text x="0" y="0" font-family='"Liberation Sans", sans-serif' font-size="13" fill="#111" transform="translate(686.85,297) rotate(90)">Kumul−Uyghur−Xinjiang−3</text>
<text x="0" y="0" font-family='"Liberation Sans", sans-serif' font-size="13" fill="#111" transform="translate(708.64,297) rotate(90)">Xinjiang Mongolia</text>
<text x="0" y="0" font-family='"Liberation Sans", sans-serif' font-size="13" fill="#111" transform="translate(730.43,297) rotate(90)">Kazakh−Xinjiang−2</text>
<text x="0" y="0" font-family='"Liberation Sans", sans-serif' font-size="13" fill="#111" transform="translate(752.22,297) rotate(90)">Xinjiang Uighur</text>
<text x="0" y="0" font-family='"Liberation Sans", sans-serif' font-size="13" fill="#111" transform="translate(774.01,297) rotate(90)">Uygur−Xinjiang−1</text>
<text x="0" y="0" font-family='"Liberation Sans", sans-serif' font-size="13" fill="#111" transform="translate(795.8,297) rotate(90)">Kazakh−Xinjiang−1</text>
<text x="0" y="0" font-family='"Liberation Sans", sans-serif' font-size="13" fill="#111" transform="translate(817.59,297) rotate(90)">Xinjiang Uzbek</text>
<text x="0" y="0" font-family='"Liberation Sans", sans-serif' font-size="13" fill="#111" transform="translate(839.38,297) rotate(90)">Xinjiang Kyrgyz</text>
<text x="0" y="0" font-family='"Liberation Sans", sans-serif' font-size="13" fill="#111" transform="translate(861.17,297) rotate(90)">Xinjiang Manchu</text>
<text x="880" y="54" font-family='"Liberation Sans", sans-serif' font-size="8.1" font-weight="bold" fill="#111" text-anchor="start" >Language</text>
<defs><linearGradient id="cb" x1="0" y1="1" x2="0" y2="0"><stop offset="0.0000" stop-color="#2166ac"/><stop offset="0.1250" stop-color="#4393c3"/><stop offset="0.2500" stop-color="#92c5de"/><stop offset="0.3750" stop-color="#d1e5f0"/><stop offset="0.5000" stop-color="#f7f7f7"/><stop offset="0.6250" stop-color="#fddbc7"/><stop offset="0.7500" stop-color="#f4a582"/><stop offset="0.8750" stop-color="#d6604d"/><stop offset="1.0000" stop-color="#b2182b"/></linearGradient></defs>
<rect x="1048.8" y="46" width="8" height="122.5" fill="url(#cb)" stroke="none" stroke-width="1" />
<text x="1060.5" y="71.1" font-family='"Liberation Sans", sans-serif' font-size="8.5" font-weight="normal" fill="#333" text-anchor="start" >2</text>
<text x="1060.5" y="94.1" font-family='"Liberation Sans", sans-serif' font-size="8.5" font-weight="normal" fill="#333" text-anchor="start" >1</text>
<text x="1060.5" y="117.6" font-family='"Liberation Sans", sans-serif' font-size="8.5" font-weight="normal" fill="#333" text-anchor="start" >0</text>
<text x="1060.5" y="141" font-family='"Liberation Sans", sans-serif' font-size="8.5" font-weight="normal" fill="#333" text-anchor="start" >−1</text>
<text x="1060.5" y="163.8" font-family='"Liberation Sans", sans-serif' font-size="8.5" font-weight="normal" fill="#333" text-anchor="start" >−2</text>
<text x="1009.9" y="190" font-family='"Liberation Sans", sans-serif' font-size="8.4" font-weight="bold" fill="#111" text-anchor="start" >Language</text>
<rect x="1009.9" y="192.0" width="10.7" height="11.7" fill="#e41a1c" stroke="none" stroke-width="1" />
<text x="1023.5" y="200.8" font-family='"Liberation Sans", sans-serif' font-size="8.2" font-weight="normal" fill="#111" text-anchor="start" >Mongolic</text>
<rect x="1009.9" y="203.7" width="10.7" height="11.7" fill="#377eb8" stroke="none" stroke-width="1" />
<text x="1023.5" y="212.5" font-family='"Liberation Sans", sans-serif' font-size="8.2" font-weight="normal" fill="#111" text-anchor="start" >Sinitic</text>
<rect x="1009.9" y="215.4" width="10.7" height="11.7" fill="#4daf4a" stroke="none" stroke-width="1" />
<text x="1023.5" y="224.20000000000002" font-family='"Liberation Sans", sans-serif' font-size="8.2" font-weight="normal" fill="#111" text-anchor="start" >Tungusic</text>
<rect x="1009.9" y="227.1" width="10.7" height="11.7" fill="#984ea3" stroke="none" stroke-width="1" />
<text x="1023.5" y="235.9" font-family='"Liberation Sans", sans-serif' font-size="8.2" font-weight="normal" fill="#111" text-anchor="start" >Turkic</text>
</svg>
</body></html>
